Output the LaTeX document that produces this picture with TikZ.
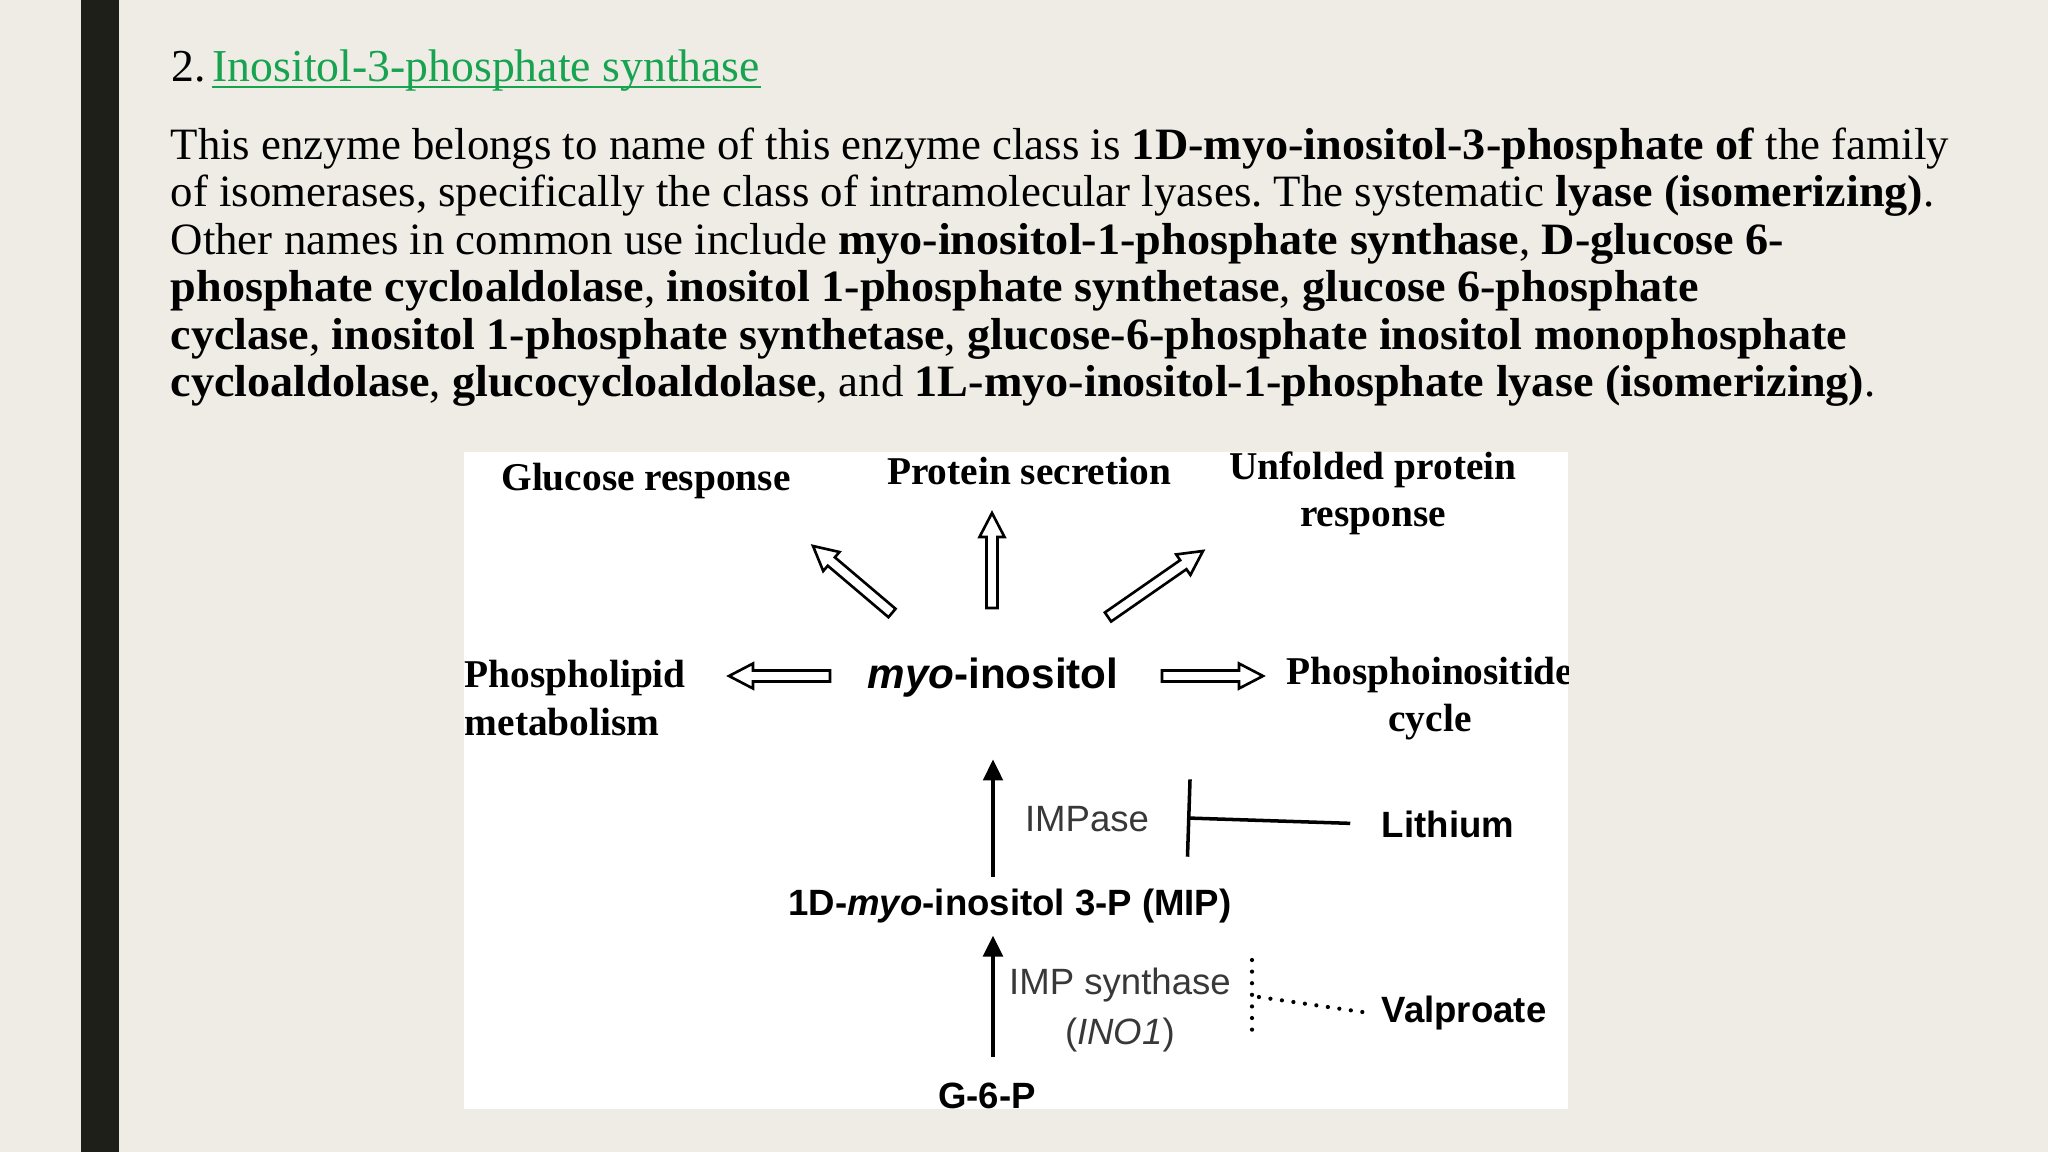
\documentclass[tikz,border=0pt]{standalone}
\usepackage{fontspec}
\setmainfont{Liberation Serif}[BoldFeatures={FakeStretch=1.03}]
\newfontfamily\figserif{Liberation Serif}
\setsansfont{Liberation Sans}
\usetikzlibrary{arrows.meta,calc}
\definecolor{slidebg}{RGB}{239,236,230}
\definecolor{slidebar}{RGB}{30,31,25}
\definecolor{linkgreen}{RGB}{24,163,80}
\frenchspacing
% outlined block arrow from #1 to #2
\newcommand{\fatarrow}[2]{%
  \coordinate (fa-base) at ($(#2)!0.24cm!(#1)$);
  \draw[hollow] ($(#1)!0.055cm!90:(#2)$) -- ($(fa-base)!0.055cm!-90:(#1)$)
    -- ($(fa-base)!0.125cm!-90:(#1)$) -- (#2) -- ($(fa-base)!0.125cm!90:(#1)$)
    -- ($(fa-base)!0.055cm!90:(#1)$) -- ($(#1)!0.055cm!-90:(#2)$) -- cycle;
}

\begin{document}
\begin{tikzpicture}[x=0.01cm,y=-0.01cm,
  serifl/.style={font=\figserif\fontsize{11.2}{13.4}\selectfont\bfseries,align=center,inner sep=0pt},
  sansl/.style={font=\sffamily\fontsize{10.4}{12.5}\selectfont\bfseries},
  enz/.style={font=\sffamily\fontsize{10.4}{14}\selectfont,text=black!78,align=center,inner sep=0pt},
  hollow/.style={draw,fill=white,line width=0.75pt,line join=miter},
  react/.style={-{Triangle[length=6pt,width=5.5pt]},line width=1.2pt},
  inhib/.style={-{Bar[width=22pt]},line width=1pt},
  dotline/.style={line width=1.2pt,line cap=round,dash pattern=on 0pt off 3.3pt}
]
  \useasboundingbox (0,0) rectangle (2048,1152);
  \fill[slidebg] (0,0) rectangle (2048,1152);
  \fill[slidebar] (81,0) rectangle (119,1152);

  % Heading and text
  \node[anchor=base west,inner sep=0pt,font=\fontsize{13}{15}\selectfont] (num) at (171,82) {2.};
  \node[anchor=base west,inner sep=0pt,font=\fontsize{13}{15}\selectfont,text=linkgreen] (link) at (212,82) {Inositol-3-phosphate synthase};
  \draw[linkgreen,line width=0.6pt] ($(link.base west)+(0,5)$) -- ($(link.base east)+(0,5)$);

  \node[anchor=north west,inner sep=0pt,align=left,font=\fontsize{12.75}{13.49}\selectfont] (body) at (170,127)
  {This enzyme belongs to name of this enzyme class is \textbf{1D-myo-inositol-3-phosphate of} the family\\
   of isomerases, specifically the class of intramolecular lyases. The systematic \textbf{lyase (isomerizing)}.\\
   Other names in common use include \textbf{myo-inositol-1-phosphate synthase}, \textbf{D-glucose 6-}\\
   \textbf{phosphate cycloaldolase}, \textbf{inositol 1-phosphate synthetase}, \textbf{glucose 6-phosphate}\\
   \textbf{cyclase}, \textbf{inositol 1-phosphate synthetase}, \textbf{glucose-6-phosphate inositol monophosphate}\\
   \textbf{cycloaldolase}, \textbf{glucocycloaldolase}, and \textbf{1L-myo-inositol-1-phosphate lyase (isomerizing)}.};

  % Pathway figure
  \fill[white] (464,452) rectangle (1568,1109);
  \begin{scope}
  \clip (464,452) rectangle (1568,1109);
  \node[serifl] (glu) at (646,481) {Glucose response};
  \node[serifl] (sec) at (1029,471) {Protein secretion};
  \node[serifl] (upr) at (1373,493) {Unfolded protein\\response};
  \node[serifl,anchor=west,align=left] (plm) at (464,698) {Phospholipid\\metabolism};
  \node[serifl] (pic) at (1430,699) {Phosphoinositide\\cycle};
  \node[font=\sffamily\fontsize{12}{14}\selectfont\bfseries] (myo) at (993,678) {\textit{myo}-inositol};
  \node[sansl] (mip) at (1010,906) {1D-\textit{myo}-inositol 3-P (MIP)};
  \node[sansl] (g6p) at (987,1096) {G-6-P};
  \node[enz] (impase) at (1087,819) {IMPase};
  \node[enz] (ino) at (1120,1010) {IMP synthase\\(\textit{INO1})};
  \node[sansl] (li) at (1448,824) {Lithium};
  \node[sansl] (val) at (1464,1013) {Valproate};

  % block arrows out of myo-inositol
  \coordinate (la0) at (830,676);  \coordinate (la1) at (729,676);
  \coordinate (nw0) at (892,613);  \coordinate (nw1) at (813,546);
  \coordinate (up0) at (992,608);  \coordinate (up1) at (992,513);
  \coordinate (ne0) at (1108,617); \coordinate (ne1) at (1203,551);
  \coordinate (ra0) at (1162,676); \coordinate (ra1) at (1263,676);
  \fatarrow{la0}{la1}
  \fatarrow{nw0}{nw1}
  \fatarrow{up0}{up1}
  \fatarrow{ne0}{ne1}
  \fatarrow{ra0}{ra1}

  % reactions
  \draw[react,shorten >=14pt] (mip.north -| myo) -- (myo.south);
  \draw[react,shorten <=4pt] (g6p.north -| myo) -- (mip.south -| myo);

  % inhibitors
  \coordinate (tb) at (1187,818);
  \draw[inhib,shorten <=5.5pt] (li.west) -- (tb);
  \coordinate (vb0) at (1252,960); \coordinate (vb1) at (1252,1032);
  \coordinate (vbm) at (1252,996);
  \draw[dotline] (vb0) -- (vb1);
  \draw[dotline,shorten <=2pt] (val.west) -- (vbm);
  \end{scope}
\end{tikzpicture}
\end{document}
